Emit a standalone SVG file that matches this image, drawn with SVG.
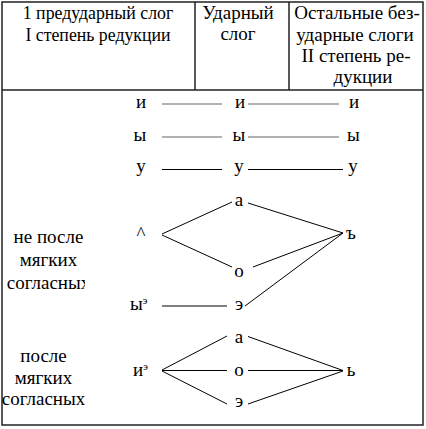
<svg xmlns="http://www.w3.org/2000/svg" width="426" height="429" viewBox="0 0 426 429">
<style>
text{font-family:"Liberation Serif","Times New Roman",serif;font-size:19px;fill:#000}
.c{text-anchor:middle}
.s{font-size:17.8px}
.ln{stroke:#000;stroke-width:1;fill:none}
.g{stroke:#666;stroke-width:1.2}
.sup{font-size:11px}
</style>
<defs>
<clipPath id="clipL"><rect x="2" y="90" width="83" height="335"/></clipPath>
</defs>
<rect width="426" height="429" fill="#fff"/>
<g id="table" fill="none" stroke="#222" stroke-width="1.5">
<rect x="2" y="2" width="421" height="423"/>
<line x1="2" y1="90" x2="423" y2="90"/>
<line x1="195" y1="2" x2="195" y2="90"/>
<line x1="289" y1="2" x2="289" y2="90"/>
</g>
<g id="header1">
<text class="c s" x="98" y="19">1 предударный слог</text>
<text class="c s" x="98" y="41">I степень редукции</text>
</g>
<g id="header2">
<text class="c" x="238" y="19">Ударный</text>
<text class="c" x="238" y="40">слог</text>
</g>
<g id="header3">
<text class="c" x="357" y="19">Остальные без-</text>
<text class="c" x="355" y="41">ударные слоги</text>
<text class="c" x="356" y="62">II степень ре-</text>
<text class="c" x="363" y="83">дукции</text>
</g>
<g id="label1" clip-path="url(#clipL)">
<text class="c" x="48.5" y="243">не после</text>
<text class="c" x="48.5" y="266">мягких</text>
<text class="c" x="48.5" y="289">согласных</text>
</g>
<g id="label2" clip-path="url(#clipL)">
<text class="c" x="43.5" y="362">после</text>
<text class="c" x="43.5" y="384">мягких</text>
<text class="c" x="43.5" y="405">согласных</text>
</g>
<g id="connectors" class="ln">
<line class="g" x1="162" y1="104" x2="222" y2="104"/>
<line class="g" x1="248" y1="104" x2="339" y2="104"/>
<line class="g" x1="162" y1="137" x2="222" y2="137"/>
<line class="g" x1="248" y1="137" x2="339" y2="137"/>
<line x1="162" y1="169.5" x2="222" y2="169.5"/>
<line x1="248" y1="169.5" x2="343" y2="169.5"/>
<line x1="162" y1="234" x2="232" y2="202"/>
<line x1="162" y1="235" x2="232" y2="267"/>
<line x1="248" y1="203" x2="343" y2="233"/>
<line x1="253" y1="267" x2="343" y2="233"/>
<line x1="245" y1="306" x2="343" y2="233"/>
<line x1="162" y1="306" x2="227" y2="306"/>
<line x1="162" y1="370" x2="227" y2="336"/>
<line x1="162" y1="370.5" x2="227" y2="370.5"/>
<line x1="162" y1="371" x2="227" y2="404"/>
<line x1="248" y1="336.5" x2="343" y2="370.5"/>
<line x1="248" y1="370.5" x2="343" y2="370.5"/>
<line x1="248" y1="404" x2="343" y2="371"/>
</g>
<g id="col1">
<text class="c" x="141" y="108">и</text>
<text class="c" x="140" y="141">ы</text>
<text class="c" x="141" y="172">у</text>
<text class="c" x="141" y="240">^</text>
<text x="130" y="310">ы<tspan class="sup" dy="-6">э</tspan></text>
<text x="133" y="376">и<tspan class="sup" dy="-6">э</tspan></text>
</g>
<g id="col2">
<text class="c" x="240" y="108">и</text>
<text class="c" x="239" y="141">ы</text>
<text class="c" x="239" y="172">у</text>
<text class="c" x="239" y="206">а</text>
<text class="c" x="239" y="277">о</text>
<text class="c" x="239" y="310">э</text>
<text class="c" x="239" y="343">а</text>
<text class="c" x="239" y="376">о</text>
<text class="c" x="239" y="407">э</text>
</g>
<g id="col3">
<text class="c" x="354" y="108">и</text>
<text class="c" x="353.5" y="141">ы</text>
<text class="c" x="353" y="172">у</text>
<text class="c" x="351" y="239">ъ</text>
<text class="c" x="351" y="376">ь</text>
</g>
</svg>
